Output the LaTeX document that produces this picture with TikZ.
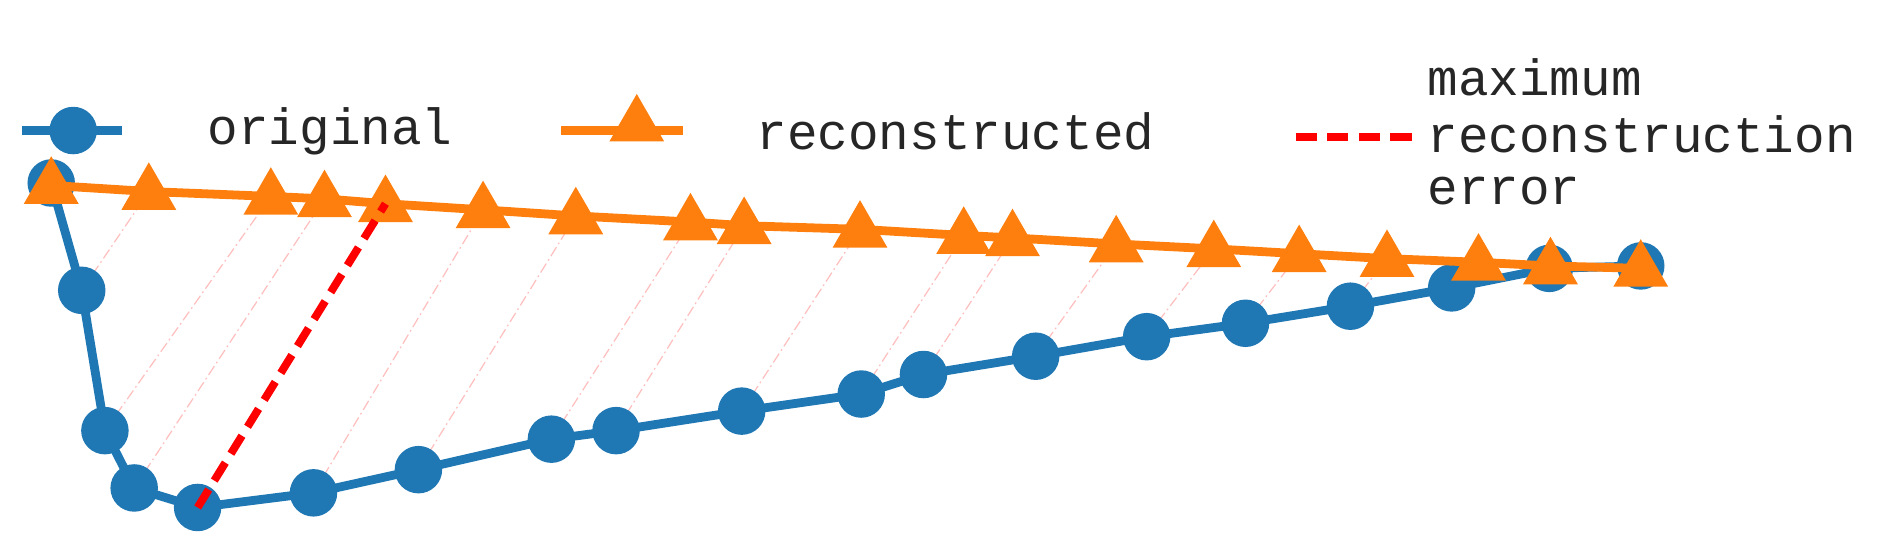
\documentclass[tikz,border=0pt]{standalone}
\usepackage{fontspec}
\setmonofont{Liberation Mono}
\usetikzlibrary{shapes.geometric}
\definecolor{cblue}{HTML}{1F77B4}
\definecolor{corange}{HTML}{FF7F0E}
\begin{document}
\begin{tikzpicture}[x=0.0244cm,y=-0.0244cm,
  dotm/.style={circle,fill=cblue,inner sep=0pt,minimum width=0.86cm,minimum height=0.95cm},
  trim/.style={isosceles triangle,isosceles triangle apex angle=60,shape border rotate=90,fill=corange,inner sep=0pt,minimum height=0.95cm,minimum width=1cm},
  errl/.style={red!25,line width=0.7pt,dash pattern=on 6pt off 2pt on 1pt off 2pt},
  lab/.style={font=\ttfamily\fontsize{29}{34}\selectfont,anchor=west,inner sep=0pt,text=black!85}]
\useasboundingbox (0,0) rectangle (1560,451.7);
\def\blue{42/150,67/238,86/353,110/400,162/416,257/404,343/385,452/360,505/353,608/337,706/323,757/307,849/292,940/276,1021/265,1107/251,1190/236,1270/220,1345/218}
\def\oran{42/152,122/157,222/161,266/163,316/167,396/172,472/177,566/182,610/185,705/188,790/193,830/195,915/200,995/204,1065/208,1137/212,1212/215,1271/218,1345/220}
\foreach \x/\y [count=\i] in \blue {\coordinate (b\i) at (\x,\y);}
\foreach \x/\y [count=\i] in \oran {\coordinate (o\i) at (\x,\y);}
\foreach \i in {2,3,4,6,7,8,9,10,11,12,13,14,15,16,17,18} {\draw[errl] (b\i) -- (o\i);}
\draw[cblue,line width=5pt,line join=round] (b1) \foreach \i in {2,...,19}{ -- (b\i)};
\foreach \i in {1,...,19} {\node[dotm] (B\i) at (b\i) {};}
\draw[corange,line width=5pt,line join=round] (o1) \foreach \i in {2,...,19}{ -- (o\i)};
\foreach \i in {1,...,19} {\node[trim,yshift=-0.05cm] (T\i) at (o\i) {};}
\draw[red,line width=4.5pt,dash pattern=on 12pt off 6pt] (b5) -- (o5);
% legend
\coordinate (l1a) at (18,107); \coordinate (l1b) at (100,107);
\draw[cblue,line width=5pt] (l1a) -- (l1b);
\node[dotm] (lb) at (60,107) {};
\node[lab] (t1) at (170,108) {original};
\coordinate (l2a) at (460,107); \coordinate (l2b) at (560,107);
\draw[corange,line width=5pt] (l2a) -- (l2b);
\node[trim] (lo) at (522,103) {};
\node[lab] (t2) at (620,108) {reconstructed};
\coordinate (l3a) at (1062,112); \coordinate (l3b) at (1160,112);
\draw[red,line width=4.5pt,dash pattern=on 12pt off 6pt] (l3a) -- (l3b);
\node[lab] (t3) at (1170,63) {maximum};
\node[lab] (t4) at (1170,110) {reconstruction};
\node[lab] (t5) at (1170,157) {error};
\end{tikzpicture}
\end{document}
